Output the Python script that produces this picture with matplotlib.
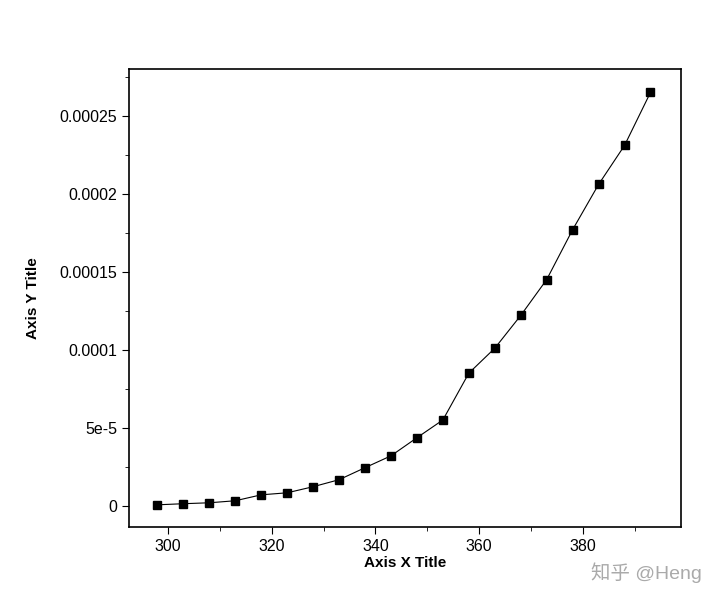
import matplotlib
matplotlib.use("Agg")
import matplotlib.pyplot as plt
from matplotlib.ticker import FixedLocator, MultipleLocator

plt.rcParams['font.family'] = ['Liberation Sans', 'Noto Sans CJK SC', 'DejaVu Sans']

x = [298, 303, 308, 313, 318, 323, 328, 333, 338, 343, 348, 353, 358, 363, 368, 373, 378, 383, 388, 393]
y = [0.6e-6, 1.3e-6, 1.9e-6, 3.2e-6, 7e-6, 8.3e-6, 12.2e-6, 16.7e-6, 24.4e-6, 32e-6, 43.6e-6, 55e-6,
     85e-6, 101e-6, 122e-6, 145e-6, 177e-6, 206e-6, 231e-6, 265e-6]
yticks = [0, 5e-5, 1e-4, 1.5e-4, 2e-4, 2.5e-4]
ytick_labels = ["0", "5e-5", "0.0001", "0.00015", "0.0002", "0.00025"]

fig = plt.figure(figsize=(7.2, 6), dpi=100)
ax = fig.add_axes([0.179, 0.122, 0.767, 0.763])
ax.plot(x, y, color='black', lw=0.8, marker='s', ms=6)
ax.set_xlim(292.5, 398.9)
ax.set_ylim(-1.35e-5, 2.8e-4)
ax.xaxis.set_major_locator(MultipleLocator(20))
ax.xaxis.set_minor_locator(MultipleLocator(10))
ax.yaxis.set_major_locator(FixedLocator(yticks))
ax.set_yticklabels(ytick_labels)
ax.yaxis.set_minor_locator(MultipleLocator(2.5e-5))
ax.tick_params(which='both', direction='out', labelsize=11.5)
ax.tick_params(which='major', length=5)
ax.tick_params(which='minor', length=3)
ax.tick_params(top=False, right=False)
for s in ax.spines.values():
    s.set_linewidth(1.2)
ax.set_xlabel("Axis X Title", fontsize=11, fontweight='bold', labelpad=2)
ax.set_ylabel("Axis Y Title", fontsize=11, fontweight='bold', labelpad=14)
fig.text(0.975, 0.045, "知乎 @Heng", ha='right', va='center', fontsize=14, color='#aaaaaa')
fig.savefig("out.png", dpi=100)
